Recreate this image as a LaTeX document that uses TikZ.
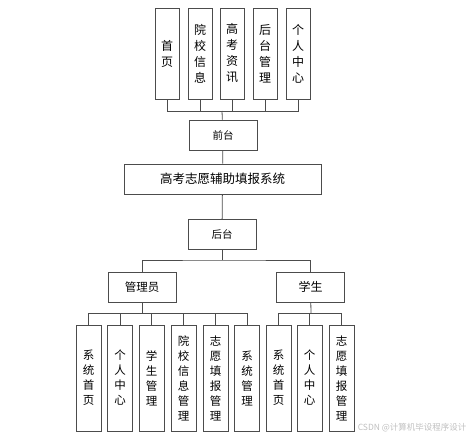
\documentclass[tikz,border=0pt]{standalone}
\usepackage{fontspec}
\setmainfont{Noto Sans CJK SC}
\begin{document}
\begin{tikzpicture}[x=1pt, y=-1pt,
    box/.style = {draw=black!70, line width=0.8pt, inner sep=0pt,
                align=center, minimum width=#1},
    box/.default = 68pt,  % width of the middle boxes
    top/.style = {box=24pt, minimum height=91pt, font=\fontsize{12}{16}\selectfont},
    leaf/.style = {box=25pt, minimum height=106pt, font=\fontsize{11.5}{15}\selectfont},
    mid/.style = {box, minimum height=30pt, font=\fontsize{#1}{#1}\selectfont},
    link/.style = {draw=black!70, line width=0.8pt}
                    ]
        \useasboundingbox (0,0) rectangle (474,437);
        \def\ty{53.5}
        \def\ly{378}
        % front end
        \foreach \x/\v/\t in {167/sy/首\\页, 200/yx/院\\校\\信\\息, 232/gk/高\\考\\资\\讯,
                              265/hg/后\\台\\管\\理, 298/gr/个\\人\\中\\心}
            \node[top] at (\x,\ty) (\v) {\t};
        \node[mid=10.5] at (223,135) (qt) {前台};
        \node[box=197pt, minimum height=30pt, font=\fontsize{12.5}{13}\selectfont]
            at (222.5,179) (xt) {高考志愿辅助填报系统};
        \node[mid=10.5] at (222,234.5) (ht) {后台};
        \node[mid=11.5] at (142,287) (gly) {管理员};
        \node[mid=12] at (310.5,287) (xs) {学生};
        % back end
        \foreach \x/\v/\t in {88.5/a/系\\统\\首\\页, 120/b/个\\人\\中\\心, 151.5/c/学\\生\\管\\理,
                              183.5/d/院\\校\\信\\息\\管\\理, 215.5/e/志\\愿\\填\\报\\管\\理,
                              247/f/系\\统\\管\\理}
            \node[leaf] at (\x,\ly) (\v) {\t};
        \foreach \x/\v/\t in {278.5/g/系\\统\\首\\页, 309.5/h/个\\人\\中\\心,
                              341.5/i/志\\愿\\填\\报\\管\\理}
            \node[leaf] at (\x,\ly) (\v) {\t};
        \coordinate (fbus) at (222,111);
        \coordinate (hbus) at (222,260);
        \coordinate (abus) at (142,313);
        \coordinate (sbus) at (311,313);
        \foreach \v in {sy, yx, gk, hg, gr}
            \draw [link] (\v.south) |- (fbus);
        \draw [link] (fbus) -- (qt);
        \draw [link] (qt) -- (xt);
        \draw [link] (xt) -- (ht);
        \draw [link] (ht) -- (hbus);
        \draw [link] (gly.north) |- (hbus) -| (xs.north);
        \draw [link] (gly) -- (abus);
        \draw [link] (xs) -- (sbus);
        \foreach \v in {a, b, c, d, e, f}
            \draw [link] (\v.north) |- (abus);
        \foreach \v in {g, h, i}
            \draw [link] (\v.north) |- (sbus);
        \node[text=black!25, font=\fontsize{8.5}{10}\selectfont, anchor=east]
            at (470,428) (wm) {CSDN @计算机毕设程序设计};
    \end{tikzpicture}
\end{document}
